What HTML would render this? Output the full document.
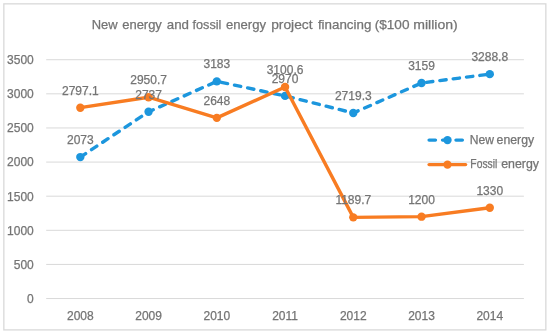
<!DOCTYPE html>
<html><head><meta charset="utf-8"><style>
html,body{margin:0;padding:0;background:#fff;}
body{width:550px;height:333px;overflow:hidden;}
svg{display:block;font-family:"Liberation Sans",sans-serif;will-change:transform;}
text{stroke:#747474;stroke-width:0.25px;}
</style></head><body>
<svg width="550" height="333" viewBox="0 0 550 333" font-size="12" fill="#747474">
<rect x="3.85" y="3.85" width="542" height="326.05" fill="#fff" stroke="#d9d9d9" stroke-width="1.3"/>
<line x1="46.20" y1="298.55" x2="523.90" y2="298.55" stroke="#d9d9d9" stroke-width="1"/>
<line x1="46.20" y1="264.43" x2="523.90" y2="264.43" stroke="#d9d9d9" stroke-width="1"/>
<line x1="46.20" y1="230.31" x2="523.90" y2="230.31" stroke="#d9d9d9" stroke-width="1"/>
<line x1="46.20" y1="196.19" x2="523.90" y2="196.19" stroke="#d9d9d9" stroke-width="1"/>
<line x1="46.20" y1="162.08" x2="523.90" y2="162.08" stroke="#d9d9d9" stroke-width="1"/>
<line x1="46.20" y1="127.96" x2="523.90" y2="127.96" stroke="#d9d9d9" stroke-width="1"/>
<line x1="46.20" y1="93.84" x2="523.90" y2="93.84" stroke="#d9d9d9" stroke-width="1"/>
<line x1="46.20" y1="59.72" x2="523.90" y2="59.72" stroke="#d9d9d9" stroke-width="1"/>
<text x="33.8" y="302.95" text-anchor="end">0</text>
<text x="33.8" y="268.83" text-anchor="end">500</text>
<text x="33.8" y="234.71" text-anchor="end">1000</text>
<text x="33.8" y="200.59" text-anchor="end">1500</text>
<text x="33.8" y="166.48" text-anchor="end">2000</text>
<text x="33.8" y="132.36" text-anchor="end">2500</text>
<text x="33.8" y="98.24" text-anchor="end">3000</text>
<text x="33.8" y="64.12" text-anchor="end">3500</text>
<text x="80.32" y="320.2" text-anchor="middle">2008</text>
<text x="148.56" y="320.2" text-anchor="middle">2009</text>
<text x="216.81" y="320.2" text-anchor="middle">2010</text>
<text x="285.05" y="320.2" text-anchor="middle">2011</text>
<text x="353.29" y="320.2" text-anchor="middle">2012</text>
<text x="421.54" y="320.2" text-anchor="middle">2013</text>
<text x="489.78" y="320.2" text-anchor="middle">2014</text>
<polyline points="80.32,157.09 148.56,111.78 216.81,81.35 285.05,95.89 353.29,112.99 421.54,82.99 489.78,74.13" fill="none" stroke="#1c96dd" stroke-width="3.4" stroke-dasharray="6.36 7.08" stroke-linecap="round" stroke-linejoin="round"/>
<circle cx="80.32" cy="157.09" r="4.2" fill="#1c96dd"/>
<circle cx="148.56" cy="111.78" r="4.2" fill="#1c96dd"/>
<circle cx="216.81" cy="81.35" r="4.2" fill="#1c96dd"/>
<circle cx="285.05" cy="95.89" r="4.2" fill="#1c96dd"/>
<circle cx="353.29" cy="112.99" r="4.2" fill="#1c96dd"/>
<circle cx="421.54" cy="82.99" r="4.2" fill="#1c96dd"/>
<circle cx="489.78" cy="74.13" r="4.2" fill="#1c96dd"/>
<polyline points="80.32,107.68 148.56,97.20 216.81,117.86 285.05,86.97 353.29,217.37 421.54,216.67 489.78,207.79" fill="none" stroke="#f87c22" stroke-width="3.4" stroke-linecap="round" stroke-linejoin="round"/>
<circle cx="80.32" cy="107.68" r="4.2" fill="#f87c22"/>
<circle cx="148.56" cy="97.20" r="4.2" fill="#f87c22"/>
<circle cx="216.81" cy="117.86" r="4.2" fill="#f87c22"/>
<circle cx="285.05" cy="86.97" r="4.2" fill="#f87c22"/>
<circle cx="353.29" cy="217.37" r="4.2" fill="#f87c22"/>
<circle cx="421.54" cy="216.67" r="4.2" fill="#f87c22"/>
<circle cx="489.78" cy="207.79" r="4.2" fill="#f87c22"/>
<text x="80.32" y="144.19" text-anchor="middle">2073</text>
<text x="148.56" y="98.88" text-anchor="middle">2737</text>
<text x="216.81" y="68.45" text-anchor="middle">3183</text>
<text x="285.05" y="82.99" text-anchor="middle">2970</text>
<text x="353.29" y="100.09" text-anchor="middle">2719.3</text>
<text x="421.54" y="70.09" text-anchor="middle">3159</text>
<text x="489.78" y="61.23" text-anchor="middle">3288.8</text>
<text x="80.32" y="94.78" text-anchor="middle">2797.1</text>
<text x="148.56" y="84.30" text-anchor="middle">2950.7</text>
<text x="216.81" y="104.96" text-anchor="middle">2648</text>
<text x="285.05" y="74.07" text-anchor="middle">3100.6</text>
<text x="353.29" y="204.47" text-anchor="middle">1189.7</text>
<text x="421.54" y="203.77" text-anchor="middle">1200</text>
<text x="489.78" y="194.89" text-anchor="middle">1330</text>
<line x1="429.1" y1="140.1" x2="465.6" y2="140.1" stroke="#1c96dd" stroke-width="3.4" stroke-dasharray="6.36 7.08" stroke-linecap="round"/>
<circle cx="447.5" cy="140.1" r="4.2" fill="#1c96dd"/>
<line x1="429.1" y1="164.6" x2="465.6" y2="164.6" stroke="#f87c22" stroke-width="3.4" stroke-linecap="round"/>
<circle cx="447.5" cy="164.6" r="4.2" fill="#f87c22"/>
<text x="469.81" y="144.2" font-size="12.2" textLength="24.20" lengthAdjust="spacingAndGlyphs">New</text>
<text x="496.60" y="144.2" font-size="12.2" textLength="37.61" lengthAdjust="spacingAndGlyphs">energy</text>
<text x="470.35" y="168.3" font-size="12.2" textLength="26.99" lengthAdjust="spacingAndGlyphs">Fossil</text>
<text x="501.19" y="168.3" font-size="12.2" textLength="37.81" lengthAdjust="spacingAndGlyphs">energy</text>
<text x="91.72" y="28.8" font-size="13.2" textLength="25.89" lengthAdjust="spacingAndGlyphs">New</text>
<text x="122.21" y="28.8" font-size="13.2" textLength="39.65" lengthAdjust="spacingAndGlyphs">energy</text>
<text x="166.80" y="28.8" font-size="13.2" textLength="22.24" lengthAdjust="spacingAndGlyphs">and</text>
<text x="192.50" y="28.8" font-size="13.2" textLength="28.83" lengthAdjust="spacingAndGlyphs">fossil</text>
<text x="226.01" y="28.8" font-size="13.2" textLength="39.96" lengthAdjust="spacingAndGlyphs">energy</text>
<text x="271.16" y="28.8" font-size="13.2" textLength="41.36" lengthAdjust="spacingAndGlyphs">project</text>
<text x="317.90" y="28.8" font-size="13.2" textLength="53.45" lengthAdjust="spacingAndGlyphs">financing</text>
<text x="374.68" y="28.8" font-size="13.2" textLength="34.80" lengthAdjust="spacingAndGlyphs">($100</text>
<text x="413.24" y="28.8" font-size="13.2" textLength="44.52" lengthAdjust="spacingAndGlyphs">million)</text>
</svg>
</body></html>
